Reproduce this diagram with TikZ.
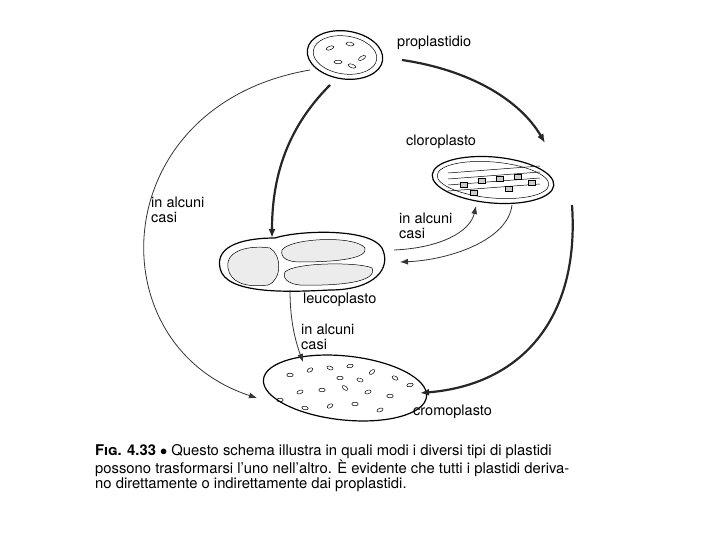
\documentclass[tikz,border=0pt]{standalone}
\usepackage{fontspec}
\setmainfont{TeX Gyre Heros}
\usetikzlibrary{arrows.meta,shapes.geometric}
\begin{document}
\begin{tikzpicture}[x=1pt,y=-1pt,
  thick arrow/.style={line width=2.2pt,-{Latex[length=9pt,width=7pt]},black!85},
  thin arrow/.style={line width=0.8pt,-{Latex[length=8pt,width=6pt]},black!80},
  lbl/.style={font=\fontsize{14.5}{15}\selectfont,align=left,inner sep=1pt},
  plast/.style={draw,line width=1.2pt,fill=white},
  inner/.style={draw,line width=0.5pt},
  gran/.style={draw,line width=0.6pt,fill=gray!40}]
\useasboundingbox (0,0) rectangle (720,540);
% proplastidio
\node[plast,ellipse,minimum width=76pt,minimum height=48pt,rotate=-8] (pro) at (345,55) {};
\draw[inner] (345,55) ellipse[x radius=32,y radius=19,rotate=-8];
\foreach \p/\a in {{(330,48)}/20,{(350,44)}/-10,{(362,58)}/30,{(338,62)}/0,{(352,66)}/-20}
  \draw[inner,rotate around={\a:\p}] \p ellipse[x radius=4,y radius=1.8];
\node[lbl,anchor=west] (lpro) at (396,43) {proplastidio};
% cloroplasto
\node[plast,ellipse,minimum width=122pt,minimum height=46pt,rotate=-5] (clo) at (493,180) {};
\draw[inner] (493,180) ellipse[x radius=56,y radius=18,rotate=-5];
\foreach \yy in {170,176,182,188}
  \draw[inner] (448,\yy+3) -- (540,\yy-4);
\foreach \xx/\yy in {460/182,478/178,496/176,514/174,470/190,505/186,528/180}
  \draw[gran] (\xx,\yy) rectangle ++(7,5);
\node[lbl,anchor=west] (lclo) at (405,142) {cloroplasto};
% leucoplasto
\draw[plast,line width=1.2pt] (220,268) .. controls (215,245) and (245,238) .. (275,238)
  .. controls (300,230) and (370,228) .. (382,248) .. controls (392,268) and (375,290) .. (330,290)
  .. controls (290,292) and (225,295) .. (220,268) -- cycle;
\node[inner sep=0,minimum width=1pt] (leu) at (300,262) {};
\draw[inner,fill=gray!15] (228,268) .. controls (225,250) and (250,245) .. (270,248) .. controls (282,255) and (282,280) .. (268,285) .. controls (245,288) and (230,282) .. (228,268);
\draw[inner,fill=gray!15] (282,250) .. controls (290,238) and (355,235) .. (365,248) .. controls (368,258) and (340,262) .. (300,262) .. controls (288,262) and (280,258) .. (282,250);
\draw[inner,fill=gray!15] (285,272) .. controls (295,262) and (360,262) .. (372,268) .. controls (378,282) and (340,286) .. (300,285) .. controls (288,284) and (282,278) .. (285,272);
\node[lbl,anchor=west] (lleu) at (302,300) {leucoplasto};
% cromoplasto
\node[plast,ellipse,minimum width=164pt,minimum height=64pt,rotate=-6] (cro) at (345,388) {};
\foreach \xx/\yy/\a in {290/375/0,310/370/30,330/368/-20,350/366/10,372/372/40,395/378/-30,300/392/20,322/390/0,345/388/-40,368/392/15,390/396/0,305/408/-10,330/406/30,355/404/0,380/410/20,280/400/0,410/385/10,340/378/0,360/380/-15}
  \draw[inner,rotate around={\a:(\xx,\yy)}] (\xx,\yy) ellipse[x radius=3.2,y radius=1.8];
\node[lbl,anchor=west] (lcro) at (412,412) {cromoplasto};
% arrows
\coordinate (a1s) at (402,60); \coordinate (a1e) at (545,143);
\draw[thick arrow] (a1s) .. controls (470,70) and (520,100) .. (a1e);
\coordinate (a2s) at (330,85); \coordinate (a2e) at (272,238);
\draw[thick arrow] (a2s) .. controls (285,130) and (272,180) .. (a2e);
\coordinate (a3s) at (310,70); \coordinate (a3e) at (257,398);
\draw[thin arrow] (a3s) .. controls (105,105) and (95,345) .. (a3e);
\node[lbl,anchor=west] (l3) at (150,210) {in alcuni\\casi};
\coordinate (a4s) at (394,250); \coordinate (a4e) at (476,206);
\draw[thin arrow] (a4s) .. controls (440,248) and (470,232) .. (a4e);
\node[lbl,anchor=west] (l4) at (398,226) {in alcuni\\casi};
\coordinate (a5s) at (512,205); \coordinate (a5e) at (400,262);
\draw[thin arrow] (a5s) .. controls (508,240) and (450,260) .. (a5e);
\coordinate (a6s) at (572,205); \coordinate (a6e) at (420,393);
\draw[thick arrow] (a6s) .. controls (580,320) and (520,385) .. (a6e);
\coordinate (a7s) at (290,290); \coordinate (a7e) at (303,362);
\draw[thin arrow] (a7s) .. controls (290,320) and (295,340) .. (a7e);
\node[lbl,anchor=west] (l7) at (300,337) {in alcuni\\casi};
% caption
\node[anchor=north west,align=left,inner sep=0,font=\fontsize{14.8}{14}\selectfont] (cap) at (95,444)
{\textbf{F\textsc{ig}. 4.33} $\bullet$ Questo schema illustra in quali modi i diversi tipi di plastidi\\
possono trasformarsi l’uno nell’altro. È evidente che tutti i plastidi deriva-\\
no direttamente o indirettamente dai proplastidi.};
\end{tikzpicture}
\end{document}
